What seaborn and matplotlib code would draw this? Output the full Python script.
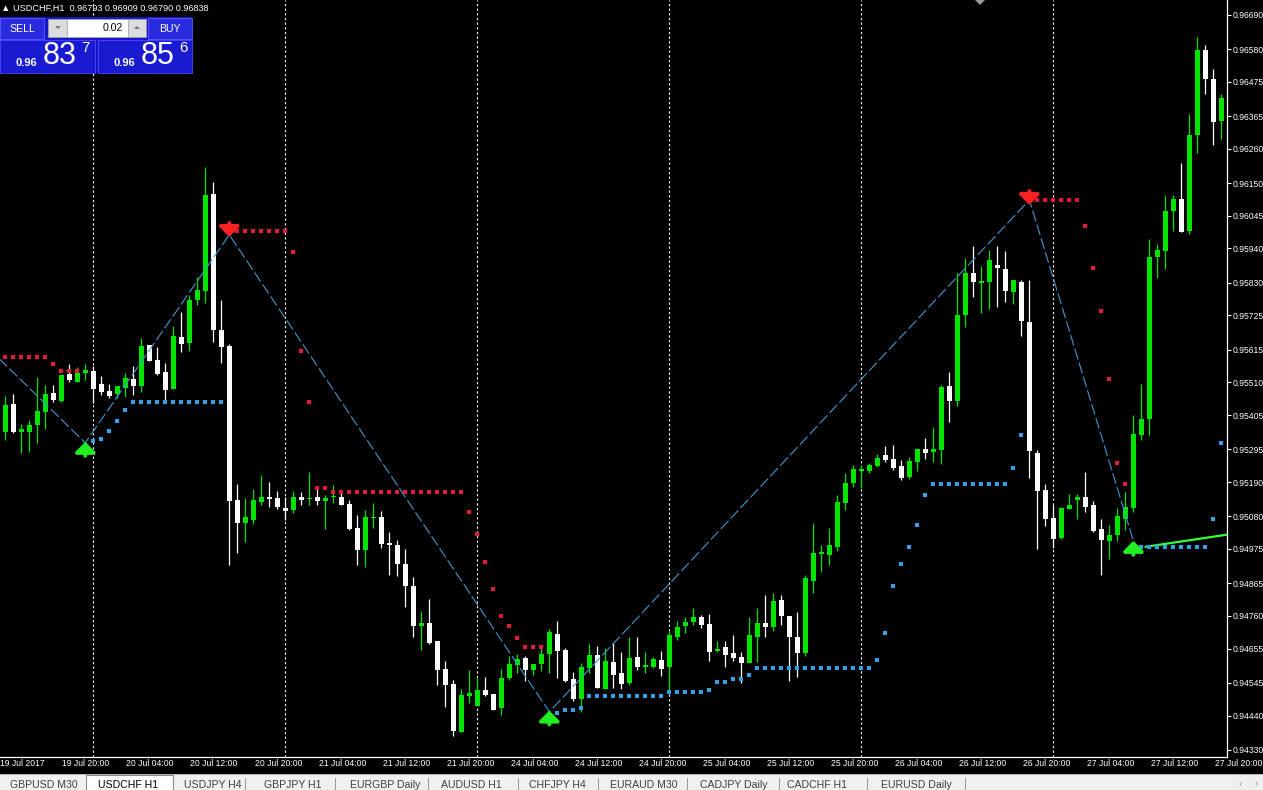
import numpy as np
import pandas as pd
import matplotlib
matplotlib.use("Agg")
import matplotlib.pyplot as plt
import matplotlib.transforms as mtransforms
from matplotlib.patches import Rectangle, Polygon
import seaborn as sns

W, H = 1263, 790

# --- chart values (USDCHF H1, 19-27 Jul 2017) ---
header = "USDCHF,H1  0.96793 0.96909 0.96790 0.96838"

opens = [0.95351, 0.95441, 0.95351, 0.95351, 0.95374, 0.95415, 0.95476, 0.95451, 0.95537, 0.95512,
         0.95541, 0.95547, 0.95505, 0.95483, 0.95473, 0.95493, 0.95521, 0.95499, 0.95631, 0.95582,
         0.95544, 0.95489, 0.95656, 0.95637, 0.95775, 0.95804, 0.96115, 0.95679, 0.95627, 0.95133,
         0.95059, 0.95069, 0.95127, 0.95143, 0.95139, 0.95107, 0.95101, 0.95143, 0.95136, 0.95143,
         0.95130, 0.95141, 0.95143, 0.95120, 0.95043, 0.94972, 0.95075, 0.95078, 0.94995, 0.94989,
         0.94928, 0.94857, 0.94729, 0.94738, 0.94680, 0.94591, 0.94542, 0.94388, 0.94504, 0.94472,
         0.94523, 0.94510, 0.94465, 0.94562, 0.94603, 0.94626, 0.94587, 0.94607, 0.94639, 0.94703,
         0.94651, 0.94558, 0.94494, 0.94594, 0.94635, 0.94526, 0.94613, 0.94578, 0.94546, 0.94629,
         0.94597, 0.94597, 0.94619, 0.94597, 0.94693, 0.94729, 0.94741, 0.94757, 0.94735, 0.94648,
         0.94661, 0.94642, 0.94629, 0.94610, 0.94693, 0.94738, 0.94725, 0.94812, 0.94761, 0.94693,
         0.94642, 0.94873, 0.94960, 0.94956, 0.94982, 0.95123, 0.95188, 0.95227, 0.95226, 0.95242,
         0.95277, 0.95265, 0.95242, 0.95207, 0.95255, 0.95297, 0.95287, 0.95293, 0.95499, 0.95451,
         0.95727, 0.95862, 0.95830, 0.95833, 0.95887, 0.95875, 0.95801, 0.95833, 0.95704, 0.95284,
         0.95165, 0.95075, 0.95011, 0.95104, 0.95133, 0.95143, 0.95117, 0.95040, 0.95001, 0.95021,
         0.95072, 0.95107, 0.95342, 0.95393, 0.95913, 0.95932, 0.96061, 0.96099, 0.95996, 0.96305,
         0.96577, 0.96484, 0.96349]
highs = [0.95467, 0.95473, 0.95377, 0.95390, 0.95528, 0.95502, 0.95502, 0.95537, 0.95570, 0.95560,
         0.95570, 0.95563, 0.95531, 0.95505, 0.95499, 0.95541, 0.95563, 0.95653, 0.95631, 0.95624,
         0.95573, 0.95692, 0.95736, 0.95791, 0.95849, 0.96202, 0.96154, 0.95775, 0.95634, 0.95184,
         0.95139, 0.95168, 0.95213, 0.95191, 0.95162, 0.95143, 0.95162, 0.95159, 0.95223, 0.95175,
         0.95149, 0.95181, 0.95155, 0.95133, 0.95085, 0.95101, 0.95123, 0.95098, 0.95030, 0.95005,
         0.94976, 0.94886, 0.94777, 0.94815, 0.94680, 0.94616, 0.94555, 0.94526, 0.94587, 0.94562,
         0.94565, 0.94510, 0.94591, 0.94632, 0.94639, 0.94632, 0.94607, 0.94661, 0.94719, 0.94745,
         0.94658, 0.94581, 0.94610, 0.94671, 0.94664, 0.94658, 0.94674, 0.94645, 0.94693, 0.94693,
         0.94645, 0.94629, 0.94648, 0.94716, 0.94745, 0.94757, 0.94786, 0.94764, 0.94767, 0.94680,
         0.94680, 0.94700, 0.94645, 0.94757, 0.94786, 0.94828, 0.94834, 0.94828, 0.94761, 0.94773,
         0.94892, 0.95059, 0.94989, 0.95043, 0.95149, 0.95220, 0.95245, 0.95245, 0.95252, 0.95281,
         0.95306, 0.95310, 0.95261, 0.95271, 0.95300, 0.95332, 0.95367, 0.95502, 0.95544, 0.95862,
         0.95910, 0.95948, 0.95884, 0.95935, 0.95948, 0.95932, 0.95839, 0.95839, 0.95839, 0.95293,
         0.95184, 0.95117, 0.95111, 0.95152, 0.95152, 0.95223, 0.95130, 0.95072, 0.95053, 0.95107,
         0.95159, 0.95406, 0.95505, 0.95971, 0.95955, 0.96112, 0.96112, 0.96215, 0.96372, 0.96619,
         0.96594, 0.96517, 0.96436]
lows = [0.95326, 0.95348, 0.95284, 0.95287, 0.95316, 0.95361, 0.95448, 0.95448, 0.95512, 0.95512,
        0.95518, 0.95444, 0.95470, 0.95460, 0.95460, 0.95464, 0.95470, 0.95480, 0.95579, 0.95534,
        0.95451, 0.95489, 0.95608, 0.95611, 0.95759, 0.95765, 0.95640, 0.95573, 0.94924, 0.94963,
        0.94998, 0.95056, 0.95117, 0.95111, 0.95104, 0.95069, 0.95091, 0.95117, 0.95117, 0.95117,
        0.95040, 0.95123, 0.95117, 0.95037, 0.94924, 0.94918, 0.95043, 0.94979, 0.94892, 0.94889,
        0.94790, 0.94693, 0.94651, 0.94671, 0.94539, 0.94469, 0.94375, 0.94388, 0.94481, 0.94472,
        0.94504, 0.94459, 0.94443, 0.94555, 0.94578, 0.94552, 0.94571, 0.94584, 0.94578, 0.94562,
        0.94549, 0.94488, 0.94452, 0.94578, 0.94530, 0.94526, 0.94530, 0.94526, 0.94539, 0.94587,
        0.94578, 0.94594, 0.94568, 0.94513, 0.94684, 0.94706, 0.94732, 0.94722, 0.94616, 0.94645,
        0.94597, 0.94616, 0.94546, 0.94610, 0.94613, 0.94693, 0.94712, 0.94732, 0.94552, 0.94565,
        0.94632, 0.94834, 0.94902, 0.94924, 0.94969, 0.95101, 0.95175, 0.95172, 0.95220, 0.95239,
        0.95255, 0.95229, 0.95197, 0.95200, 0.95226, 0.95265, 0.95255, 0.95249, 0.95383, 0.95435,
        0.95688, 0.95785, 0.95733, 0.95746, 0.95753, 0.95769, 0.95762, 0.95659, 0.95204, 0.94976,
        0.95050, 0.94979, 0.95008, 0.95104, 0.95072, 0.95094, 0.95030, 0.94892, 0.94944, 0.95001,
        0.95037, 0.95094, 0.95326, 0.95342, 0.95846, 0.95875, 0.95996, 0.95993, 0.95987, 0.96247,
        0.96436, 0.96273, 0.96292]
closes = [0.95438, 0.95351, 0.95361, 0.95374, 0.95419, 0.95473, 0.95454, 0.95534, 0.95518, 0.95541,
          0.95550, 0.95489, 0.95480, 0.95467, 0.95499, 0.95525, 0.95499, 0.95627, 0.95579, 0.95537,
          0.95486, 0.95659, 0.95634, 0.95775, 0.95807, 0.96112, 0.95679, 0.95624, 0.95130, 0.95059,
          0.95078, 0.95133, 0.95143, 0.95136, 0.95111, 0.95098, 0.95143, 0.95133, 0.95139, 0.95130,
          0.95139, 0.95143, 0.95117, 0.95040, 0.94972, 0.95078, 0.95078, 0.94992, 0.94989, 0.94928,
          0.94857, 0.94729, 0.94738, 0.94674, 0.94587, 0.94539, 0.94391, 0.94507, 0.94513, 0.94523,
          0.94507, 0.94459, 0.94562, 0.94607, 0.94623, 0.94587, 0.94607, 0.94639, 0.94709, 0.94648,
          0.94552, 0.94494, 0.94597, 0.94635, 0.94530, 0.94616, 0.94571, 0.94542, 0.94626, 0.94597,
          0.94603, 0.94623, 0.94591, 0.94700, 0.94725, 0.94741, 0.94757, 0.94732, 0.94645, 0.94655,
          0.94635, 0.94626, 0.94610, 0.94700, 0.94738, 0.94725, 0.94809, 0.94761, 0.94693, 0.94642,
          0.94883, 0.94963, 0.94963, 0.94989, 0.95127, 0.95188, 0.95233, 0.95230, 0.95245, 0.95268,
          0.95261, 0.95236, 0.95204, 0.95258, 0.95297, 0.95284, 0.95297, 0.95496, 0.95451, 0.95727,
          0.95862, 0.95833, 0.95833, 0.95903, 0.95878, 0.95804, 0.95839, 0.95708, 0.95290, 0.95162,
          0.95072, 0.95008, 0.95107, 0.95117, 0.95143, 0.95111, 0.95033, 0.95005, 0.95021, 0.95082,
          0.95111, 0.95345, 0.95393, 0.95913, 0.95935, 0.96061, 0.96099, 0.95993, 0.96305, 0.96577,
          0.96484, 0.96346, 0.96423]

# day separators (first bar of each day) and time-scale labels
day_start_bars = [11, 35, 59, 83, 107, 131]
first_time_label = "19 Jul 2017"
time_tick_bars = [7, 15, 23, 31, 39, 47, 55, 63, 71, 79, 87, 95, 103, 111, 119, 127, 135, 143, 151]
time_labels = ["19 Jul 20:00", "20 Jul 04:00", "20 Jul 12:00", "20 Jul 20:00", "21 Jul 04:00",
               "21 Jul 12:00", "21 Jul 20:00", "24 Jul 04:00", "24 Jul 12:00", "24 Jul 20:00",
               "25 Jul 04:00", "25 Jul 12:00", "25 Jul 20:00", "26 Jul 04:00", "26 Jul 12:00",
               "26 Jul 20:00", "27 Jul 04:00", "27 Jul 12:00", "27 Jul 20:00"]
price_ticks = [0.96690, 0.96580, 0.96475, 0.96365, 0.96260, 0.96150, 0.96045, 0.95940, 0.95830,
               0.95725, 0.95615, 0.95510, 0.95405, 0.95295, 0.95190, 0.95080, 0.94975, 0.94865,
               0.94760, 0.94655, 0.94545, 0.94440, 0.94330]

# resistance dots (red) and support dots (blue)
red_bars = [0, 1, 2, 3, 4, 5, 6, 7, 8, 9,
            29, 30, 31, 32, 33, 34, 35, 36, 37, 38,
            39, 40, 41, 42, 43, 44, 45, 46, 47, 48, 49, 50, 51, 52, 53, 54, 55, 56, 57,
            58, 59, 60, 61, 62, 63, 64, 65, 66, 67,
            129, 130, 131, 132, 133, 134, 135, 136, 137, 138, 139, 140]
red_prices = [0.95592, 0.95592, 0.95592, 0.95592, 0.95592, 0.95592, 0.95570, 0.95547, 0.95547, 0.95547,
              0.95996, 0.95996, 0.95996, 0.95996, 0.95996, 0.95996, 0.95996, 0.95929, 0.95611, 0.95448,
              0.95172, 0.95172, 0.95159, 0.95159, 0.95159, 0.95159, 0.95159, 0.95159, 0.95159, 0.95159,
              0.95159, 0.95159, 0.95159, 0.95159, 0.95159, 0.95159, 0.95159, 0.95159, 0.95159,
              0.95094, 0.95024, 0.94934, 0.94847, 0.94761, 0.94729, 0.94690, 0.94661, 0.94661, 0.94661,
              0.96096, 0.96096, 0.96096, 0.96096, 0.96096, 0.96096, 0.96013, 0.95878, 0.95740, 0.95521,
              0.95252, 0.95184]
blue_bars = [11, 12, 13, 14, 15, 16, 17, 18, 19, 20, 21, 22, 23, 24, 25, 26, 27,
             69, 70, 71, 72, 73, 74, 75, 76, 77, 78, 79, 80, 81, 82,
             83, 84, 85, 86, 87, 88, 89, 90, 91, 92, 93,
             94, 95, 96, 97, 98, 99, 100, 101, 102, 103, 104, 105, 106, 107, 108,
             109, 110, 111, 112, 113, 114, 115,
             116, 117, 118, 119, 120, 121, 122, 123, 124, 125, 126, 127,
             142, 143, 144, 145, 146, 147, 148, 149, 150, 151, 152]
blue_prices = [0.95322, 0.95329, 0.95354, 0.95387, 0.95422, 0.95448, 0.95448, 0.95448, 0.95448,
               0.95448, 0.95448, 0.95448, 0.95448, 0.95448, 0.95448, 0.95448, 0.95448,
               0.94449, 0.94459, 0.94459, 0.94465, 0.94504, 0.94504, 0.94504, 0.94504, 0.94504,
               0.94504, 0.94504, 0.94504, 0.94504, 0.94504,
               0.94517, 0.94517, 0.94517, 0.94517, 0.94517, 0.94523, 0.94549, 0.94549, 0.94558,
               0.94558, 0.94571,
               0.94594, 0.94594, 0.94594, 0.94594, 0.94594, 0.94594, 0.94594, 0.94594, 0.94594,
               0.94594, 0.94594, 0.94594, 0.94594, 0.94594, 0.94594,
               0.94619, 0.94706, 0.94857, 0.94928, 0.94982, 0.95053, 0.95149,
               0.95184, 0.95184, 0.95184, 0.95184, 0.95184, 0.95184, 0.95184, 0.95184, 0.95184,
               0.95184, 0.95236, 0.95342,
               0.94982, 0.94982, 0.94982, 0.94982, 0.94982, 0.94982, 0.94982, 0.94982, 0.94982,
               0.95072, 0.95316]

# zigzag swing line, signal arrows and the trend line at the end
zigzag_bars = [-1, 10, 28, 68, 128, 141]
zigzag_prices = [0.95592, 0.95316, 0.95984, 0.94452, 0.96096, 0.95001]
buy_arrow_bars = [10, 68, 141]
buy_arrow_prices = [0.95319, 0.94456, 0.95001]
sell_arrow_bars = [28, 128]
sell_arrow_prices = [0.95977, 0.96080]
trend_bars = [142.5, 152.7]
trend_prices = [0.94982, 0.95021]

tabs = ["GBPUSD M30", "USDCHF H1", "USDJPY H4", "GBPJPY H1", "EURGBP Daily", "AUDUSD H1",
        "CHFJPY H4", "EURAUD M30", "CADJPY Daily", "CADCHF H1", "EURUSD Daily"]
active_tab = "USDCHF H1"

# --- style ---
BULL = "#00e400"
BEAR = "#ffffff"
RED = "#e8173c"
BLUE = "#2ea3ea"
ZIG = "#3f98d2"

sns.set_theme(style="dark", rc={"axes.facecolor": "black", "figure.facecolor": "black"})
plt.rcParams["font.family"] = ["Liberation Sans", "DejaVu Sans"]

fig = plt.figure(figsize=(W / 100, H / 100), dpi=100)
fig.patch.set_facecolor("black")

plot_right, plot_bottom = 1227, 757
ax = fig.add_axes([0, 1 - plot_bottom / H, plot_right / W, plot_bottom / H])
ax.set_facecolor("black")

x_min, x_max = -0.66, 152.7
y_top, y_bot = 0.96738, 0.94307
ax.set_xlim(x_min, x_max)
ax.set_ylim(y_bot, y_top)
one_px = (y_top - y_bot) / plot_bottom

# day separators
for b in day_start_bars:
    ax.axvline(b, color="white", lw=0.8, ls=(0, (2, 2.2)), zorder=1)

# candles
df = pd.DataFrame({"open": opens, "high": highs, "low": lows, "close": closes})
df["bar"] = np.arange(len(df))
up = df["close"] > df["open"]
cols = np.where(up, BULL, BEAR)
ax.vlines(df["bar"], df["low"], df["high"], colors=cols, lw=0.9, zorder=3)
body_lo = np.minimum(df["open"], df["close"])
body_h = np.maximum((df["close"] - df["open"]).abs(), one_px * 1.3)
ax.bar(df["bar"], body_h, bottom=body_lo, width=0.64, color=cols, linewidth=0, zorder=4)

# zigzag line
sns.lineplot(x=zigzag_bars, y=zigzag_prices, ax=ax, sort=False, estimator=None,
             color=ZIG, lw=0.8, linestyle=(0, (10, 3)), zorder=5)
sns.lineplot(x=trend_bars, y=trend_prices, ax=ax, sort=False, estimator=None,
             color="#35ff35", lw=1.6, zorder=5)

# indicator dots
sns.scatterplot(x=red_bars, y=red_prices, ax=ax, color=RED, marker="s", s=7.5,
                linewidth=0, zorder=6, legend=False)
sns.scatterplot(x=blue_bars, y=blue_prices, ax=ax, color=BLUE, marker="s", s=7.5,
                linewidth=0, zorder=6, legend=False)

# arrows
for b, p in zip(buy_arrow_bars, buy_arrow_prices):
    ax.annotate("", xy=(b, p), xytext=(0, -10), textcoords="offset points",
                arrowprops=dict(arrowstyle="-|>,head_width=0.5,head_length=0.5",
                                color="#22ee22", lw=2.8, shrinkA=0, shrinkB=0), zorder=7)
for b, p in zip(sell_arrow_bars, sell_arrow_prices):
    ax.annotate("", xy=(b, p), xytext=(0, 10), textcoords="offset points",
                arrowprops=dict(arrowstyle="-|>,head_width=0.5,head_length=0.5",
                                color="#ff2020", lw=2.8, shrinkA=0, shrinkB=0), zorder=7)

# axes look (MT4 style)
for s in ["left", "top"]:
    ax.spines[s].set_visible(False)
for s in ["right", "bottom"]:
    ax.spines[s].set_color("white")
    ax.spines[s].set_linewidth(0.9)
ax.grid(False)
ax.yaxis.tick_right()
ax.set_yticks(price_ticks)
ax.set_yticklabels([f"{v:.5f}" for v in price_ticks])
ax.tick_params(axis="y", colors="white", labelsize=6.2, length=3, width=0.8, pad=1.2)
ax.set_xticks(time_tick_bars)
ax.set_xticklabels([])
ax.tick_params(axis="x", colors="white", length=4, width=0.8, direction="out")
ax.set_xlabel("")
ax.set_ylabel("")

tx = mtransforms.blended_transform_factory(ax.transData, ax.transAxes)
for b, lab in zip(time_tick_bars, time_labels):
    ax.text(b + 0.15, -0.003, lab, transform=tx, color="white", fontsize=6.2,
            ha="left", va="top", clip_on=False)
ax.text(-0.6, -0.003, first_time_label, transform=tx, color="white", fontsize=6.2,
        ha="left", va="top", clip_on=False)


# --- helpers for screen-like widgets, in pixel coordinates ---
def px_rect(x0, y0, x1, y1, **kw):
    fig.add_artist(Rectangle((x0 / W, 1 - y1 / H), (x1 - x0) / W, (y1 - y0) / H,
                             transform=fig.transFigure, **kw))


def px_text(x, y, s, **kw):
    fig.text(x / W, 1 - y / H, s, **kw)


def px_tri(pts, **kw):
    fig.add_artist(Polygon([(x / W, 1 - y / H) for x, y in pts], closed=True,
                           transform=fig.transFigure, **kw))


# header line
px_text(3, 8, "\u25b2", color="white", fontsize=5, va="center", family="DejaVu Sans")
px_text(13, 8, header, color="white", fontsize=6.6, va="center")
px_tri([(975, 0), (985, 0), (980, 5)], color="#9a9a9a", lw=0)

# one-click trading panel
px_rect(0, 17, 192, 73, color="#1616c4", lw=0)
px_rect(0, 18, 44, 39, facecolor="#2a2ade", edgecolor="#5c5cff", lw=0.6)
px_rect(148, 18, 192, 39, facecolor="#2a2ade", edgecolor="#5c5cff", lw=0.6)
px_text(22, 28.5, "SELL", color="white", fontsize=7.6, ha="center", va="center")
px_text(170, 28.5, "BUY", color="white", fontsize=7.6, ha="center", va="center")
px_rect(48, 19, 67, 37, facecolor="#dcdcdc", edgecolor="#a8a8a8", lw=0.5)
px_rect(128, 19, 146, 37, facecolor="#dcdcdc", edgecolor="#a8a8a8", lw=0.5)
px_rect(67, 19, 128, 37, facecolor="white", edgecolor="#a8a8a8", lw=0.5)
px_tri([(55, 26), (61, 26), (58, 29)], color="#777777", lw=0)
px_tri([(134, 29), (140, 29), (137, 26)], color="#777777", lw=0)
px_text(123, 28, "0.02", color="black", fontsize=7.6, ha="right", va="center")
px_rect(0, 40, 95, 73, facecolor="#1a1ad0", edgecolor="#4b4bff", lw=0.6)
px_rect(98, 40, 192, 73, facecolor="#1a1ad0", edgecolor="#4b4bff", lw=0.6)
for x0, big, small in [(15, "83", "7"), (113, "85", "6")]:
    px_text(x0, 63, "0.96", color="white", fontsize=8, weight="bold", ha="left", va="center")
    px_text(x0 + 28, 56, big, color="white", fontsize=22, ha="left", va="center")
    px_text(x0 + 66, 48, small, color="white", fontsize=11, ha="left", va="center")

# symbol tabs strip
px_rect(0, 774, W, H, color="#f0f0f0", lw=0)
px_rect(0, 774, W, 775, color="#b4b4b4", lw=0)
tab_centers = [44, 128, 213, 293, 385, 471, 557, 644, 734, 817, 916]
tab_seps = [245, 335, 428, 518, 598, 687, 779, 867, 965]
px_rect(86, 775, 173, H + 2, facecolor="white", edgecolor="#8c8c8c", lw=0.8)
for c, name in zip(tab_centers, tabs):
    px_text(c, 784.5, name, color="black" if name == active_tab else "#404040",
            fontsize=7.6, ha="center", va="center")
for sx in tab_seps:
    px_rect(sx, 778, sx + 1, 790, color="#9c9c9c", lw=0)
px_text(1240, 784, "\u2039", color="#a0a0a0", fontsize=8, ha="center", va="center")
px_text(1256, 784, "\u203a", color="#a0a0a0", fontsize=8, ha="center", va="center")

fig.savefig("out.png", dpi=100, facecolor="black")
